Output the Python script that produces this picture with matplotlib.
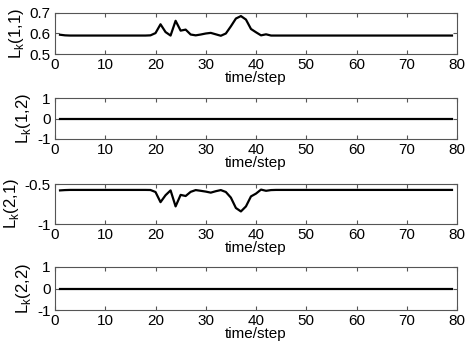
import numpy as np
import matplotlib.pyplot as plt

plt.rcParams['font.family'] = ['Liberation Sans', 'DejaVu Sans']
plt.rcParams['mathtext.fontset'] = 'custom'
plt.rcParams['mathtext.rm'] = 'Liberation Sans'

# time steps
steps = np.arange(1, 80)

# L_k(1,1): baseline ~0.59, bumps between steps 20 and 42
l11_base = 0.59
l11_bumps = {1: 0.594, 2: 0.591, 19: 0.591, 20: 0.602, 21: 0.645, 22: 0.607, 23: 0.59,
             24: 0.662, 25: 0.614, 26: 0.619, 27: 0.595, 28: 0.591, 29: 0.595,
             30: 0.6, 31: 0.603, 32: 0.596, 33: 0.589, 34: 0.6, 35: 0.635,
             36: 0.673, 37: 0.685, 38: 0.668, 39: 0.622, 40: 0.606, 41: 0.591,
             42: 0.596, 43: 0.59}
l11 = [l11_bumps.get(s, l11_base) for s in steps]

# L_k(2,1): baseline ~-0.575, dips between steps 20 and 42
l21_base = -0.574
l21_bumps = {1: -0.58, 2: -0.576, 19: -0.575, 20: -0.6, 21: -0.727, 22: -0.64,
             23: -0.58, 24: -0.78, 25: -0.636, 26: -0.65, 27: -0.598, 28: -0.576,
             29: -0.585, 30: -0.595, 31: -0.608, 32: -0.59, 33: -0.576, 34: -0.6,
             35: -0.67, 36: -0.8, 37: -0.843, 38: -0.78, 39: -0.655, 40: -0.62,
             41: -0.57, 42: -0.585, 43: -0.576}
l21 = [l21_bumps.get(s, l21_base) for s in steps]

l12 = np.zeros(len(steps))
l22 = np.zeros(len(steps))

series = [l11, l12, l21, l22]
labels = ['L$_\\mathregular{k}$(1,1)', 'L$_\\mathregular{k}$(1,2)',
          'L$_\\mathregular{k}$(2,1)', 'L$_\\mathregular{k}$(2,2)']
ylims = [(0.5, 0.7), (-1, 1), (-1, -0.5), (-1, 1)]
yticks = [[0.5, 0.6, 0.7], [-1, 0, 1], [-1, -0.5], [-1, 0, 1]]
yticklabels = [['0.5', '0.6', '0.7'], ['-1', '0', '1'], ['-1', '-0.5'], ['-1', '0', '1']]

W, H = 474, 351
# axes boxes in pixels: (top, bottom)
boxes = [(13, 54), (98, 139), (184, 224), (267, 310)]
left, right = 55, 457

fig = plt.figure(figsize=(W / 100, H / 100), dpi=100)
for i in range(4):
    top, bot = boxes[i]
    ax = fig.add_axes([left / W, 1 - bot / H, (right - left) / W, (bot - top) / H])
    ax.plot(steps, series[i], color='black', linewidth=1.6)
    ax.set_xlim(0, 80)
    ax.set_ylim(*ylims[i])
    ax.set_xticks(range(0, 81, 10))
    ax.set_yticks(yticks[i])
    ax.set_yticklabels(yticklabels[i])
    ax.tick_params(direction='in', top=True, right=True, labelsize=11,
                   length=3, width=0.8, color='#555555')
    ax.tick_params(axis='y', pad=3)
    ax.tick_params(axis='x', pad=3)
    for sp in ax.spines.values():
        sp.set_color('#555555')
        sp.set_linewidth(0.8)
    ax.set_xlabel('time/step', fontsize=11, labelpad=-1)
    ax.set_ylabel(labels[i], fontsize=12, labelpad=3)

plt.savefig('out.png', dpi=100)
